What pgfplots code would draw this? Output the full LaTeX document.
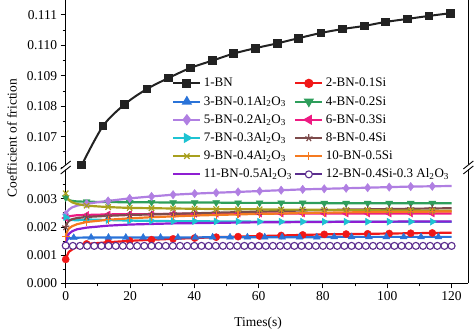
\documentclass[border=0pt]{standalone}
\usepackage{fontspec}
\setmainfont{Liberation Serif}
\usepackage{pgfplots}
\pgfplotsset{compat=1.18}
\usepackage{pgfplotstable}

\definecolor{c1}{HTML}{222222}
\definecolor{c2}{HTML}{F01818}
\definecolor{c3}{HTML}{2A73D8}
\definecolor{c4}{HTML}{2E9E5B}
\definecolor{c5}{HTML}{B07FE2}
\definecolor{c6}{HTML}{EE1A82}
\definecolor{c7}{HTML}{1EC3D2}
\definecolor{c8}{HTML}{7D4B4B}
\definecolor{c9}{HTML}{A8A01E}
\definecolor{c10}{HTML}{F57A20}
\definecolor{c11}{HTML}{8E1ED2}
\definecolor{c12}{HTML}{5B2D8E}

% 1-BN (upper part)
\pgfplotstableread{
t v
5 0.10607
11.6 0.10735
18.4 0.10807
25.3 0.10857
32 0.10893
38.8 0.10926
45.6 0.10950
52.2 0.10973
59 0.10991
65.9 0.11007
72.5 0.11024
79.4 0.11041
86.2 0.11054
92.8 0.11064
99.4 0.11077
106.2 0.11087
113 0.11097
119.7 0.11106
}\tabA

% 2-BN-0.1Si
\pgfplotstableread{
t v m
0 0.00085 1
0.5 0.00100 0
1 0.00112 0
2 0.00120 0
3.5 0.00130 0
6.5 0.00140 1
13.2 0.00146 1
19.9 0.00151 1
26.7 0.00155 1
33.4 0.00158 1
40.1 0.00161 1
46.8 0.00164 1
53.6 0.00166 1
60.3 0.00168 1
67.0 0.00170 1
73.7 0.00172 1
80.4 0.00174 1
87.2 0.00175 1
93.9 0.00176 1
100.6 0.00177 1
107.3 0.00178 1
114.0 0.00179 1
120 0.00180 0
}\tabB

% 3-BN-0.1Al2O3
\pgfplotstableread{
t v m
0 0.00145 0
0.5 0.00155 0
1 0.00160 0
2.5 0.00162 1
7.9 0.00163 1
13.3 0.00163 1
18.7 0.00163 1
24.1 0.00163 1
29.5 0.00163 1
34.9 0.00163 1
40.3 0.00163 1
45.7 0.00164 1
51.1 0.00164 1
56.5 0.00164 1
61.9 0.00164 1
67.3 0.00164 1
72.7 0.00164 1
78.1 0.00164 1
83.5 0.00165 1
88.9 0.00165 1
94.3 0.00165 1
99.7 0.00165 1
105.1 0.00165 1
110.5 0.00165 1
115.9 0.00165 1
120 0.00165 0
}\tabC

% 4-BN-0.2Si
\pgfplotstableread{
t v m
0 0.00305 1
0.5 0.00300 0
1 0.00296 0
2 0.00293 0
3.5 0.00291 0
6.5 0.00290 1
13.2 0.00289 1
19.9 0.00288 1
26.7 0.00288 1
33.4 0.00287 1
40.1 0.00287 1
46.8 0.00287 1
53.6 0.00286 1
60.3 0.00286 1
67.0 0.00286 1
73.7 0.00286 1
80.4 0.00285 1
87.2 0.00285 1
93.9 0.00285 1
100.6 0.00285 1
107.3 0.00285 1
114.0 0.00285 1
120 0.00285 0
}\tabD

% 5-BN-0.2Al2O3
\pgfplotstableread{
t v m
0 0.00245 1
0.5 0.00255 0
1 0.00262 0
2 0.00270 0
3.5 0.00276 0
6.5 0.00283 1
13.2 0.00293 1
19.9 0.00302 1
26.7 0.00309 1
33.4 0.00315 1
40.1 0.00319 1
46.8 0.00322 1
53.6 0.00325 1
60.3 0.00328 1
67.0 0.00331 1
73.7 0.00334 1
80.4 0.00336 1
87.2 0.00338 1
93.9 0.00340 1
100.6 0.00342 1
107.3 0.00344 1
114.0 0.00345 1
120 0.00346 0
}\tabE

% 6-BN-0.3Si
\pgfplotstableread{
t v m
0 0.00232 1
0.5 0.00235 0
1 0.00238 0
2 0.00240 0
3.5 0.00242 0
6.5 0.00243 1
13.2 0.00245 1
19.9 0.00246 1
26.7 0.00246 1
33.4 0.00247 1
40.1 0.00247 1
46.8 0.00247 1
53.6 0.00248 1
60.3 0.00248 1
67.0 0.00248 1
73.7 0.00248 1
80.4 0.00248 1
87.2 0.00248 1
93.9 0.00248 1
100.6 0.00248 1
107.3 0.00248 1
114.0 0.00248 1
120 0.00248 0
}\tabF

% 7-BN-0.3Al2O3
\pgfplotstableread{
t v m
0 0.00235 1
0.5 0.00230 0
1 0.00227 0
2 0.00225 0
3.5 0.00224 0
6.5 0.00227 1
13.2 0.00225 1
19.9 0.00223 1
26.7 0.00222 1
33.4 0.00221 1
40.1 0.00221 1
46.8 0.00220 1
53.6 0.00220 1
60.3 0.00219 1
67.0 0.00219 1
73.7 0.00219 1
80.4 0.00219 1
87.2 0.00219 1
93.9 0.00219 1
100.6 0.00219 1
107.3 0.00219 1
114.0 0.00219 1
120 0.00219 0
}\tabG

% 8-BN-0.4Si
\pgfplotstableread{
t v m
0 0.00200 1
0.5 0.00215 0
1 0.00222 0
2 0.00228 0
3.5 0.00232 0
6.5 0.00236 1
13.2 0.00240 1
19.9 0.00243 1
26.7 0.00245 1
33.4 0.00247 1
40.1 0.00249 1
46.8 0.00251 1
53.6 0.00253 1
60.3 0.00255 1
67.0 0.00257 1
73.7 0.00259 1
80.4 0.00260 1
87.2 0.00262 1
93.9 0.00263 1
100.6 0.00264 1
107.3 0.00265 1
114.0 0.00266 1
120 0.00267 0
}\tabH

% 9-BN-0.4Al2O3
\pgfplotstableread{
t v m
0 0.00320 1
0.5 0.00305 0
1 0.00296 0
2 0.00288 0
3.5 0.00282 0
6.5 0.00276 1
13.2 0.00271 1
19.9 0.00268 1
26.7 0.00267 1
33.4 0.00266 1
40.1 0.00265 1
46.8 0.00264 1
53.6 0.00263 1
60.3 0.00263 1
67.0 0.00262 1
73.7 0.00262 1
80.4 0.00261 1
87.2 0.00260 1
93.9 0.00260 1
100.6 0.00259 1
107.3 0.00259 1
114.0 0.00258 1
120 0.00258 0
}\tabI

% 10-BN-0.5Si
\pgfplotstableread{
t v m
0 0.00165 1
0.5 0.00185 0
1 0.00195 0
2 0.00203 0
3.5 0.00210 0
6.5 0.00218 1
13.2 0.00226 1
19.9 0.00231 1
26.7 0.00235 1
33.4 0.00238 1
40.1 0.00241 1
46.8 0.00243 1
53.6 0.00245 1
60.3 0.00247 1
67.0 0.00248 1
73.7 0.00250 1
80.4 0.00251 1
87.2 0.00252 1
93.9 0.00253 1
100.6 0.00254 1
107.3 0.00254 1
114.0 0.00255 1
120 0.00255 0
}\tabJ

% 11-BN-0.5Al2O3
\pgfplotstableread{
t v
0 0.00145
0.5 0.00165
1 0.00176
2 0.00185
3.5 0.00192
6.5 0.00198
13.2 0.00205
19.9 0.00209
26.7 0.00211
33.4 0.00213
40.1 0.00214
46.8 0.00215
53.6 0.00216
60.3 0.00217
67.0 0.00217
73.7 0.00218
80.4 0.00218
87.2 0.00219
93.9 0.00219
100.6 0.00219
107.3 0.00220
114.0 0.00220
120 0.00220
}\tabK

% 12-BN-0.4Si-0.3Al2O3
\pgfplotstableread{
t v
0 0.00134
2.22 0.00133
4.44 0.00133
6.67 0.00133
8.89 0.00133
11.11 0.00133
13.33 0.00133
15.56 0.00133
17.78 0.00133
20.00 0.00133
22.22 0.00133
24.44 0.00133
26.67 0.00133
28.89 0.00133
31.11 0.00133
33.33 0.00133
35.56 0.00133
37.78 0.00133
40.00 0.00133
42.22 0.00133
44.44 0.00133
46.67 0.00133
48.89 0.00133
51.11 0.00133
53.33 0.00133
55.56 0.00133
57.78 0.00133
60.00 0.00133
62.22 0.00133
64.44 0.00133
66.67 0.00133
68.89 0.00133
71.11 0.00133
73.33 0.00133
75.56 0.00133
77.78 0.00133
80.00 0.00133
82.22 0.00133
84.44 0.00133
86.67 0.00133
88.89 0.00133
91.11 0.00133
93.33 0.00133
95.56 0.00133
97.78 0.00133
100.00 0.00133
102.22 0.00133
104.44 0.00133
106.67 0.00133
108.89 0.00133
111.11 0.00133
113.33 0.00133
115.56 0.00133
117.78 0.00133
120.00 0.00133
}\tabL

\pgfplotsset{
  brk/.style={
    scale only axis, width=402.6pt, xmin=0, xmax=125.2, anchor=south west,
    clip=false,
    axis line style={-, line width=1pt},
    tick align=outside, major tick length=5pt, minor tick length=3pt,
    every tick/.append style={line width=1pt, black},
    tick label style={font=\fontsize{13.5}{15}\selectfont},
    label style={font=\fontsize{13.5}{15}\selectfont},
    /pgf/number format/assume math mode=true,
    scaled y ticks=false,
    yticklabel style={/pgf/number format/.cd, fixed, fixed zerofill, precision=3},
    ytick pos=left,
  },
  ln/.style={line width=2.2pt, forget plot},
  mk/.style={only marks, forget plot, restrict expr to domain={\thisrow{m}}{0.5:1.5}},
}

\begin{document}
\begin{tikzpicture}
\useasboundingbox (0,0) rectangle (474pt,335pt);

% lower part
\begin{axis}[brk,
  at={(65.7pt,51.7pt)}, height=115.3pt,
  ymin=0, ymax=0.0041,
  axis x line*=bottom, axis y line*=box,
  xtick={0,20,...,120}, minor x tick num=1,
  ytick={0,0.001,0.002,0.003}, minor ytick={0.0005,0.0015,0.0025,0.0035},
  xlabel={Times(s)},
  xlabel style={at={(axis description cs:0.478,-0.35)}, anchor=center},
]
\addplot[c12, ln] table[x=t,y=v]{\tabL};
\addplot[c2, ln] table[x=t,y=v]{\tabB};
\addplot[c2, mk, mark=*, mark size=3.6pt] table[x=t,y=v]{\tabB};
\addplot[c3, ln] table[x=t,y=v]{\tabC};
\addplot[c3, mk, mark=triangle*, mark size=4pt] table[x=t,y=v]{\tabC};
\addplot[c4, ln] table[x=t,y=v]{\tabD};
\addplot[c4, mk, mark=triangle*, mark size=4pt, mark options={rotate=180}] table[x=t,y=v]{\tabD};
\addplot[c5, ln] table[x=t,y=v]{\tabE};
\addplot[c5, mk, mark=diamond*, mark size=4.2pt] table[x=t,y=v]{\tabE};
\addplot[c6, ln] table[x=t,y=v]{\tabF};
\addplot[c6, mk, mark=triangle*, mark size=4pt, mark options={rotate=90}] table[x=t,y=v]{\tabF};
\addplot[c7, ln] table[x=t,y=v]{\tabG};
\addplot[c7, mk, mark=triangle*, mark size=4pt, mark options={rotate=-90}] table[x=t,y=v]{\tabG};
\addplot[c8, ln] table[x=t,y=v]{\tabH};
\addplot[c8, mk, mark=star, mark size=3.8pt, line width=1.2pt] table[x=t,y=v]{\tabH};
\addplot[c9, ln] table[x=t,y=v]{\tabI};
\addplot[c9, mk, mark=x, mark size=3.8pt, line width=1.2pt] table[x=t,y=v]{\tabI};
\addplot[c10, ln] table[x=t,y=v]{\tabJ};
\addplot[c10, mk, mark=+, mark size=3.8pt, line width=1.2pt] table[x=t,y=v]{\tabJ};
\addplot[c11, ln] table[x=t,y=v]{\tabK};
\addplot[c12, only marks, forget plot, mark=*, mark size=3.5pt, mark options={fill=white, draw=c12, line width=1.1pt}] table[x=t,y=v]{\tabL};
\end{axis}

% upper part
\begin{axis}[brk,
  at={(65.7pt,167pt)}, height=168pt,
  ymin=0.10597, ymax=0.111493,
  axis x line*=top, axis y line*=box,
  xtick=\empty,
  ytick={0.106,0.107,0.108,0.109,0.110,0.111}, minor y tick num=1,
  ylabel={Coefficient of friction},
  ylabel style={at={(axis description cs:-0.1334,0.179)}, anchor=center},
  legend columns=2, legend cell align=left,
  legend image code/.code={\draw[mark repeat=2,mark phase=2,#1] plot coordinates {(0pt,0pt)(13.5pt,0pt)(27pt,0pt)};},
  legend style={at={(axis description cs:0.257,0.571)}, anchor=north west,
    draw=none, fill=none, font=\fontsize{13}{15}\selectfont,
    nodes={inner xsep=2.5pt, inner ysep=2.6pt, text height=10pt, text depth=3pt},
    /tikz/every even column/.append style={column sep=0pt}},
]
\addplot[c1, line width=2pt, smooth, tension=0.5, mark=square*, mark size=3.4pt, forget plot] table[x=t,y=v]{\tabA};
\addlegendimage{c1, line width=2pt, mark=square*, mark size=3.4pt}
\addlegendentry{1-BN}
\addlegendimage{c2, line width=2pt, mark=*, mark size=3.6pt}
\addlegendentry{2-BN-0.1Si}
\addlegendimage{c3, line width=2pt, mark=triangle*, mark size=4pt}
\addlegendentry{3-BN-0.1Al\textsubscript{2}O\textsubscript{3}}
\addlegendimage{c4, line width=2pt, mark=triangle*, mark size=4pt, mark options={rotate=180}}
\addlegendentry{4-BN-0.2Si}
\addlegendimage{c5, line width=2pt, mark=diamond*, mark size=4.2pt}
\addlegendentry{5-BN-0.2Al\textsubscript{2}O\textsubscript{3}}
\addlegendimage{c6, line width=2pt, mark=triangle*, mark size=4pt, mark options={rotate=90}}
\addlegendentry{6-BN-0.3Si}
\addlegendimage{c7, line width=2pt, mark=triangle*, mark size=4pt, mark options={rotate=-90}}
\addlegendentry{7-BN-0.3Al\textsubscript{2}O\textsubscript{3}}
\addlegendimage{c8, line width=2pt, mark=star, mark size=3.8pt, mark options={line width=1.2pt}}
\addlegendentry{8-BN-0.4Si}
\addlegendimage{c9, line width=2pt, mark=x, mark size=3.8pt, mark options={line width=1.2pt}}
\addlegendentry{9-BN-0.4Al\textsubscript{2}O\textsubscript{3}}
\addlegendimage{c10, line width=2pt, mark=+, mark size=3.8pt, mark options={line width=1.2pt}}
\addlegendentry{10-BN-0.5Si}
\addlegendimage{c11, line width=2pt}
\addlegendentry{11-BN-0.5Al\textsubscript{2}O\textsubscript{3}}
\addlegendimage{c12, line width=2pt, mark=*, mark size=3.5pt, mark options={fill=white, line width=1.1pt}}
\addlegendentry{12-BN-0.4Si-0.3 Al\textsubscript{2}O\textsubscript{3}}
\end{axis}

% axis break marks
\draw[white, line width=3.5pt] (60.7pt,164pt) -- (70.7pt,172pt);
\draw[black, line width=0.9pt] (60.7pt,166pt) -- (70.7pt,174pt);
\draw[black, line width=0.9pt] (60.7pt,161pt) -- (70.7pt,169pt);
\draw[white, line width=3.5pt] (463.3pt,164pt) -- (473.3pt,172pt);
\draw[black, line width=0.9pt] (463.3pt,166pt) -- (473.3pt,174pt);
\draw[black, line width=0.9pt] (463.3pt,161pt) -- (473.3pt,169pt);
\end{tikzpicture}
\end{document}
